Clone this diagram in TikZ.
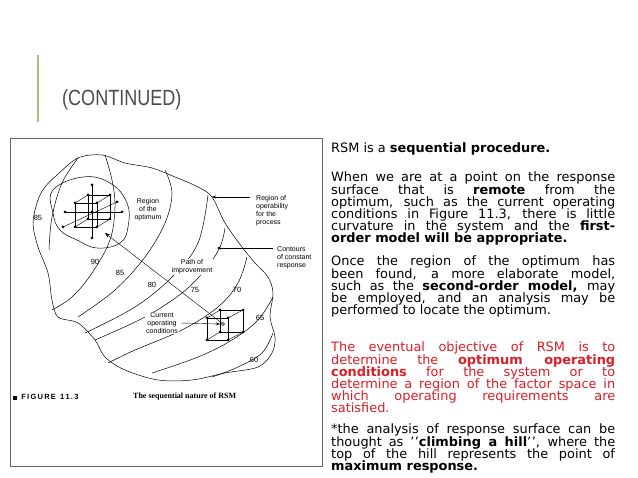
\documentclass[tikz,border=0pt]{standalone}
\usepackage{fontspec}
\setmainfont{DejaVu Sans}
\setsansfont{Liberation Sans}
\newfontfamily\titlefont{Liberation Sans}
\newfontfamily\capserif{Liberation Serif}
\usetikzlibrary{arrows.meta}
\definecolor{redtxt}{RGB}{220,30,40}
\definecolor{bar}{RGB}{160,195,120}
\newcommand{\parafont}{\fontsize{12.9}{12.2}\selectfont\lineskiplimit=-20pt\relax\lineskip=0pt\relax\hyphenpenalty=10000\relax\exhyphenpenalty=10000\relax\tolerance=10000\relax\hbadness=10000\relax}
\newcommand{\lb}{\linebreak}
\newcommand{\sq}{\char"27\kern0.5pt\char"27}
\begin{document}
\begin{tikzpicture}[x=1pt,y=-1pt,
  lbl/.style={font=\sffamily\fontsize{7}{8}\selectfont,inner sep=0pt,align=left},
  num/.style={font=\sffamily\fontsize{7.5}{8}\selectfont,inner sep=0pt},
  para/.style={anchor=north west,inner sep=0pt,text width=284pt,align=justify,font=\parafont},
  cont/.style={line width=0.5pt},
  dotp/.style={circle,fill=black,inner sep=0pt,minimum size=3pt}]
\useasboundingbox (0,0) rectangle (638,478);
\fill[white] (0,0) rectangle (638,478);
% title
\draw[bar,line width=1.2pt] (38,55) -- (38,122);
\node[anchor=west,inner sep=0pt,text=black!70] (title) at (62,100) {\titlefont\fontsize{22}{22}\selectfont\scalebox{0.82}[1]{(CONTINUED)}};
% figure frame
\draw[black!60,line width=0.6pt] (10,466) -- (10,138) -- (322,138) -- (322,466) -- cycle;
% outer blob
\draw[cont] plot[smooth cycle,tension=0.55] coordinates{(45,187)(57,175)(78,158)(102,155)(125,163)(152,168)(175,177)(198,187)(212,197)(225,223)(242,247)(255,263)(268,277)(273,293)(270,317)(275,337)(272,353)(258,367)(225,373)(192,380)(158,380)(125,370)(105,357)(95,340)(78,323)(58,317)(52,300)(48,273)(38,247)(33,223)(38,200)};
% inner blob
\draw[cont] plot[smooth cycle,tension=0.7] coordinates{(53,190)(83,177)(110,183)(127,203)(128,227)(120,243)(97,248)(77,240)(60,230)(53,213)};
% contours
\draw[cont] plot[smooth,tension=0.6] coordinates{(78,158)(62,183)(52,217)(49,250)};
\draw[cont] plot[smooth,tension=0.6] coordinates{(105,155)(112,180)(115,207)(110,240)(92,273)(72,297)(52,310)};
\draw[cont] plot[smooth,tension=0.6] coordinates{(165,170)(172,193)(165,223)(145,257)(115,290)(78,317)};
\draw[cont] plot[smooth,tension=0.6] coordinates{(208,195)(198,243)(172,277)(135,307)(85,333)};
\draw[cont] plot[smooth,tension=0.6] coordinates{(225,228)(220,247)(205,270)(182,293)(145,317)(95,340)};
\draw[cont] plot[smooth,tension=0.6] coordinates{(247,257)(238,283)(218,307)(182,330)(135,350)(108,363)};
\draw[cont] plot[smooth,tension=0.6] coordinates{(273,297)(258,320)(232,340)(198,357)(152,373)};
\draw[cont] plot[smooth,tension=0.6] coordinates{(273,333)(262,353)(238,367)(212,377)};
% numbers
\node[num] (n1) at (38,218) {85};
\node[num] (n2) at (95,262) {90};
\node[num] (n3) at (120,273) {85};
\node[num] (n4) at (152,285) {80};
\node[num] (n5) at (195,290) {75};
\node[num] (n6) at (237,290) {70};
\node[num] (n7) at (260,318) {65};
\node[num] (n8) at (254,360) {60};
% labels
\node[lbl,align=center,fill=white,inner sep=1pt] (ropt) at (148,210) {Region\\of the\\optimum};
\node[lbl,anchor=west] (roper) at (256,211) {Region of\\operability\\for the\\process};
\node[lbl,anchor=west] (contl) at (277,258) {Contours\\of constant\\response};
\node[lbl,align=center,fill=white,inner sep=1pt] (path) at (192,267) {Path of\\improvement};
\node[lbl,align=center,fill=white,inner sep=1pt] (curr) at (162,323) {Current\\operating\\conditions};
\coordinate (a1) at (212,197);
\coordinate (a2) at (217,248);
\coordinate (a3) at (220,324);
\draw[-{Stealth[length=4pt]},line width=0.4pt] (250,197) -- (a1);
\draw[-{Stealth[length=4pt]},line width=0.4pt] (273,248) -- (a2);
\draw[-{Stealth[length=4pt]},line width=0.4pt] (curr.east) ++(2,0) -- (a3);
% current cube
\begin{scope}[line width=0.4pt]
\draw (207,318) rectangle (228,340);
\draw (220,310) rectangle (243,332);
\draw (207,318)--(220,310) (228,318)--(243,310) (228,340)--(243,332) (207,340)--(220,332);
\foreach \p in {(207,318),(228,318),(228,340),(207,340),(220,310),(243,310),(243,332),(220,332)} \node[dotp] at \p {};
\node[circle,draw,fill=white,inner sep=0pt,minimum size=3pt] (cc) at (223,324) {};
\coordinate (copt) at (105,233);
\draw[-{Stealth[length=5pt]}] (cc) -- (copt);
\end{scope}
% optimum CCD
\begin{scope}[line width=0.4pt]
\draw (75,203) rectangle (97,227);
\draw (88,195) rectangle (110,219);
\draw (75,203)--(88,195) (97,203)--(110,195) (97,227)--(110,219) (75,227)--(88,219);
\foreach \p in {(75,203),(97,203),(97,227),(75,227),(88,195),(110,195),(110,219),(88,219)} \node[dotp] at \p {};
\draw (92,185) -- (92,238);
\draw (65,212) -- (122,212);
\draw (63,227) -- (117,202);
\foreach \p in {(92,185),(92,238),(65,212),(122,212),(63,227),(117,202),(92,212)} \node[dotp] at \p {};
\end{scope}
% caption
\node[anchor=west,inner sep=0pt] (cap1) at (13,397) {\sffamily\bfseries\fontsize{7.5}{8}\selectfont \rule{4pt}{4pt}\ \ F\,I\,G\,U\,R\,E\ \ 1\,1\,.\,3};
\node[anchor=west,inner sep=0pt] (cap2) at (133,397) {\capserif\bfseries\fontsize{8}{8}\selectfont The sequential nature of RSM};
% right text
\node[para] (p1) at (331,143) {RSM is a \textbf{sequential procedure.}};
\node[para] (p2) at (331,172) {When we are at a point on the response\lb{} surface that is \textbf{remote} from the\lb{} optimum, such as the current operating\lb{} conditions in Figure 11.3, there is little\lb{} curvature in the system and the \textbf{first-}\lb{} \textbf{order model will be appropriate.}};
\node[para] (p3) at (331,256) {Once the region of the optimum has\lb{} been found, a more elaborate model,\lb{} such as the \textbf{second-order model,} may\lb{} be employed, and an analysis may be\lb{} performed to locate the optimum.};
\node[para,text=redtxt] (p4) at (331,342) {The eventual objective of RSM is to\lb{} determine the \textbf{optimum operating}\lb{} \textbf{conditions} for the system or to\lb{} determine a region of the factor space in\lb{} which operating requirements are\lb{} satisfied.};
\node[para] (p5) at (331,424) {*the analysis of response surface can be\lb{} thought as {\sq}\textbf{climbing a hill}{\sq}, where the\lb{} top of the hill represents the point of\lb{} \textbf{maximum response.}};
\end{tikzpicture}
\end{document}
